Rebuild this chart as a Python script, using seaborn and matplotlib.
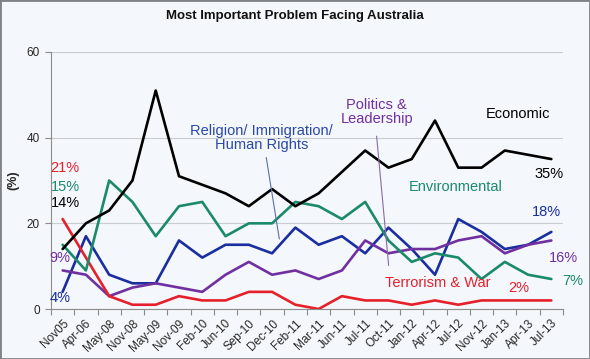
import numpy as np
import pandas as pd
import matplotlib
matplotlib.use("Agg")
import matplotlib.pyplot as plt
import seaborn as sns

categories = ["Nov05", "Apr-06", "May-08", "Nov-08", "May-09", "Nov-09", "Feb-10", "Jun-10",
              "Sep-10", "Dec-10", "Feb-11", "Mar-11", "Jun-11", "Jul-11", "Oct-11", "Jan-12",
              "Apr-12", "Jul-12", "Nov-12", "Jan-13", "Apr-13", "Jul-13"]
economic = [14, 20, 23, 30, 51, 31, 29, 27, 24, 28, 24, 27, 32, 37, 33, 35, 44, 33, 33, 37, 36, 35]
environmental = [15, 9, 30, 25, 17, 24, 25, 17, 20, 20, 25, 24, 21, 25, 16, 11, 13, 12, 7, 11, 8, 7]
religion = [4, 17, 8, 6, 6, 16, 12, 15, 15, 13, 19, 15, 17, 13, 19, 14, 8, 21, 18, 14, 15, 18]
politics = [9, 8, 3, 5, 6, 5, 4, 8, 11, 8, 9, 7, 9, 16, 13, 14, 14, 16, 17, 13, 15, 16]
terrorism = [21, 12, 3, 1, 1, 3, 2, 2, 4, 4, 1, 0, 3, 2, 2, 1, 2, 1, 2, 2, 2, 2]
yticks = [0, 20, 40, 60]

series = {
    "Economic": economic,
    "Environmental": environmental,
    "Religion": religion,
    "Politics": politics,
    "Terrorism": terrorism,
}
colors = {
    "Economic": "#000000",
    "Environmental": "#1b8a6b",
    "Religion": "#1a2ea0",
    "Politics": "#7030a0",
    "Terrorism": "#e5202b",
}

rows = []
for name, vals in series.items():
    for c, v in zip(categories, vals):
        rows.append({"Period": c, "Value": v, "Series": name})
df = pd.DataFrame(rows)

sns.set_theme(style="white")
plt.rcParams["font.family"] = ["Liberation Sans", "DejaVu Sans"]

bg = "#f4f7fb"
fig = plt.figure(figsize=(5.9, 3.59), dpi=100, facecolor=bg)
ax = fig.add_axes([51 / 590, 1 - 309 / 359, (563 - 51) / 590, (309 - 52) / 359])
ax.set_facecolor(bg)

sns.lineplot(data=df, x="Period", y="Value", hue="Series", palette=colors,
             hue_order=["Religion", "Politics", "Terrorism", "Environmental", "Economic"],
             sort=False, linewidth=1.9, ax=ax, legend=False)

ax.set_xlim(-0.5, len(categories) - 0.5)
ax.set_ylim(0, 60)
ax.set_yticks(yticks)
ax.set_yticklabels([str(t) for t in yticks], fontsize=8.5)
ax.yaxis.grid(True, color="#c9ccd1", linewidth=0.8)
ax.set_axisbelow(True)
for s in ["top", "right"]:
    ax.spines[s].set_visible(False)
for s in ["left", "bottom"]:
    ax.spines[s].set_color("#8c8c8c")
    ax.spines[s].set_linewidth(0.8)

ax.set_xticks(range(len(categories)))
ax.set_xticklabels(categories, fontsize=8.5, rotation=45, ha="right", rotation_mode="anchor")
ax.set_xticks(np.arange(-0.5, len(categories), 1), minor=True)
ax.tick_params(axis="x", which="major", length=0, pad=6)
ax.tick_params(axis="x", which="minor", length=4, color="#8c8c8c", width=0.8, direction="out", bottom=True)
ax.tick_params(axis="y", length=4, color="#8c8c8c", width=0.8, direction="out", left=True, pad=4)
ax.set_xlabel("")
ax.set_ylabel("(%)", fontsize=9, fontweight="bold")
ax.yaxis.set_label_coords((19 - 51) / 512, 0.5)

fig.text(0.5, 1 - 16 / 359, "Most Important Problem Facing Australia", ha="center", va="center",
         fontsize=9.5, fontweight="bold", color="#111111")

fs = 10.5
# start labels
ax.text(-0.52, 33, "21%", color="#e5202b", fontsize=fs, ha="left", va="center")
ax.text(-0.52, 28.5, "15%", color="#1b8a6b", fontsize=fs, ha="left", va="center")
ax.text(-0.52, 24.8, "14%", color="#000000", fontsize=fs, ha="left", va="center")
ax.text(-0.55, 11.9, "9%", color="#7030a0", fontsize=fs, ha="left", va="center")
ax.text(-0.55, 2.6, "4%", color="#1a2ea0", fontsize=fs, ha="left", va="center")
# end labels
ax.text(20.9, 31.5, "35%", color="#000000", fontsize=fs, ha="center", va="center")
ax.text(20.8, 22.7, "18%", color="#1a2ea0", fontsize=fs, ha="center", va="center")
ax.text(21.5, 11.9, "16%", color="#7030a0", fontsize=fs, ha="center", va="center")
ax.text(21.9, 6.5, "7%", color="#1b8a6b", fontsize=fs, ha="center", va="center")
ax.text(19.6, 4.9, "2%", color="#e5202b", fontsize=fs, ha="center", va="center")
# series names
ax.text(19.55, 45.6, "Economic", color="#000000", fontsize=fs, ha="center", va="center")
ax.text(16.9, 28.5, "Environmental", color="#1b8a6b", fontsize=fs, ha="center", va="center")
ax.text(16.1, 6.1, "Terrorism & War", color="#e5202b", fontsize=fs, ha="center", va="center")
ax.text(8.56, 40, "Religion/ Immigration/\nHuman Rights", color="#2a48a8", fontsize=fs,
        ha="center", va="center", linespacing=1.0)
ax.text(13.5, 46, "Politics &\nLeadership", color="#7030a0", fontsize=fs,
        ha="center", va="center", linespacing=1.0)
# leader lines
ax.annotate("", xy=(9.33, 15.7), xytext=(8.73, 36),
            arrowprops=dict(arrowstyle="-", color="#5a6fa8", lw=0.8))
ax.annotate("", xy=(14.02, 9.5), xytext=(13.48, 41),
            arrowprops=dict(arrowstyle="-", color="#8a6aa8", lw=0.8))

fig.patches.append(plt.Rectangle((0, 0), 1, 1, transform=fig.transFigure, fill=False,
                                 edgecolor="#7f8388", linewidth=2.0))

fig.savefig("out.png", dpi=100, facecolor=bg)
